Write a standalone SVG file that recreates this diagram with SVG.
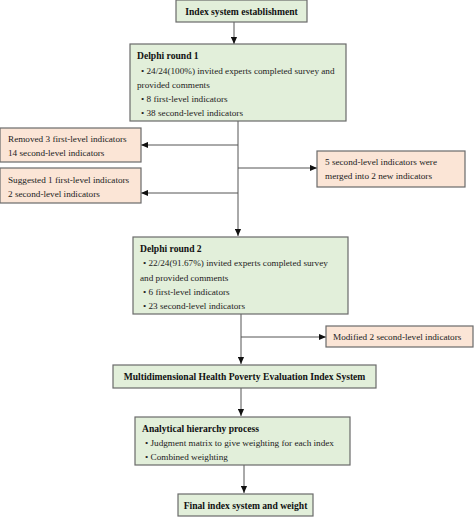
<svg xmlns="http://www.w3.org/2000/svg" width="474" height="517" viewBox="0 0 474 517">
<defs>
<style>
.g{fill:#e2efda;stroke:#6a6a6a;stroke-width:1.2}
.p{fill:#fbe5d6;stroke:#6a6a6a;stroke-width:1.2}
text{font-family:"Liberation Serif","Times New Roman",serif;font-size:9.2px;fill:#222}
.b{font-weight:bold;fill:#111;font-size:9.6px}
.c{stroke:#555;stroke-width:1;fill:none}
</style>
<marker id="a" viewBox="0 0 8 8" refX="8" refY="4" markerWidth="7" markerHeight="7" markerUnits="userSpaceOnUse" orient="auto">
<path d="M0,0.5 L8,4 L0,7.5 Z" fill="#111"/>
</marker>
</defs>
<g id="connectors">
<line class="c" x1="234" y1="22" x2="234" y2="44" marker-end="url(#a)"/>
<line class="c" x1="238" y1="121" x2="238" y2="236" marker-end="url(#a)"/>
<line class="c" x1="238" y1="145" x2="141" y2="145" marker-end="url(#a)"/>
<line class="c" x1="238" y1="193" x2="141" y2="193" marker-end="url(#a)"/>
<line class="c" x1="238" y1="168" x2="317" y2="168" marker-end="url(#a)"/>
<line class="c" x1="241" y1="314" x2="241" y2="364" marker-end="url(#a)"/>
<line class="c" x1="241" y1="337" x2="326" y2="337" marker-end="url(#a)"/>
<line class="c" x1="241" y1="388" x2="241" y2="416" marker-end="url(#a)"/>
<line class="c" x1="244" y1="465" x2="244" y2="493" marker-end="url(#a)"/>
</g>
<g id="n1">
<rect class="g" x="176" y="0" width="131" height="22"/>
<text class="b" x="241.5" y="15" text-anchor="middle">Index system establishment</text>
</g>
<g id="n2">
<rect class="g" x="130" y="44" width="216" height="77"/>
<text class="b" x="137" y="59">Delphi round 1</text>
<text x="141" y="74">• 24/24(100%) invited experts completed survey and</text>
<text x="137" y="88">provided comments</text>
<text x="141" y="102">• 8 first-level indicators</text>
<text x="141" y="116">• 38 second-level indicators</text>
</g>
<g id="n3">
<rect class="p" x="0" y="128" width="141" height="34"/>
<text x="8" y="142">Removed 3 first-level indicators</text>
<text x="8" y="156">14 second-level indicators</text>
</g>
<g id="n4">
<rect class="p" x="0" y="168" width="141" height="35"/>
<text x="8" y="183">Suggested 1 first-level indicators</text>
<text x="8" y="197">2 second-level indicators</text>
</g>
<g id="n5">
<rect class="p" x="317" y="151" width="148" height="36"/>
<text x="325" y="165">5 second-level indicators were</text>
<text x="325" y="179">merged into 2 new indicators</text>
</g>
<g id="n6">
<rect class="g" x="133" y="237" width="215" height="77"/>
<text class="b" x="140" y="252">Delphi round 2</text>
<text x="143" y="266">• 22/24(91.67%) invited experts completed survey</text>
<text x="140" y="281">and provided comments</text>
<text x="143" y="295">• 6 first-level indicators</text>
<text x="143" y="309">• 23 second-level indicators</text>
</g>
<g id="n7">
<rect class="p" x="326" y="326" width="147" height="21"/>
<text x="333" y="340">Modified 2 second-level indicators</text>
</g>
<g id="n8">
<rect class="g" x="113" y="365" width="263" height="23"/>
<text class="b" x="244.5" y="380" text-anchor="middle">Multidimensional Health Poverty Evaluation Index System</text>
</g>
<g id="n9">
<rect class="g" x="135" y="417" width="215" height="48"/>
<text class="b" x="142" y="432">Analytical hierarchy process</text>
<text x="145" y="446">• Judgment matrix to give weighting for each index</text>
<text x="145" y="460">• Combined weighting</text>
</g>
<g id="n10">
<rect class="g" x="178" y="494" width="135" height="22"/>
<text class="b" x="245.5" y="509" text-anchor="middle">Final index system and weight</text>
</g>
</svg>
